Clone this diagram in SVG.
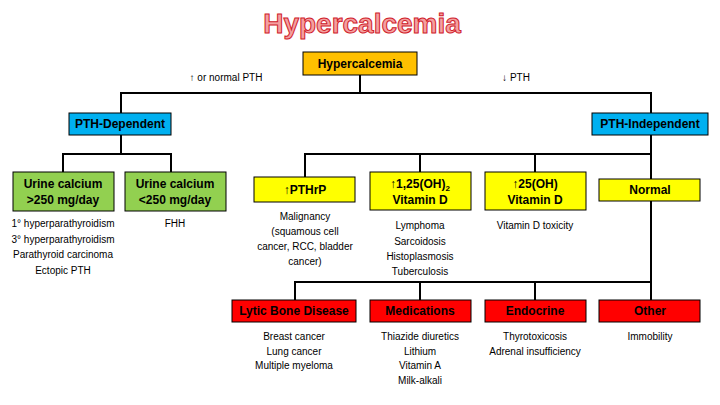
<svg xmlns="http://www.w3.org/2000/svg" width="720" height="405" viewBox="0 0 720 405">
<style>
.b{stroke:#000;stroke-width:1}
.t{font-family:"Liberation Sans",Arial,sans-serif;font-weight:bold;font-size:12px;text-anchor:middle;fill:#000}
.s{font-family:"Liberation Sans",Arial,sans-serif;font-size:10px;text-anchor:middle;fill:#000}
.c line{stroke:#000;stroke-width:2}
</style>
<rect width="720" height="405" fill="#fff"/>
<text x="362" y="33" font-family="Liberation Sans,Arial,sans-serif" font-weight="bold" font-size="28" text-anchor="middle" fill="#F4A0A0" stroke="#D0202A" stroke-width="1">Hypercalcemia</text>
<g class="c" id="connectors">
<line x1="360" y1="75" x2="360" y2="93"/>
<line x1="121" y1="93" x2="651" y2="93"/>
<line x1="121" y1="92" x2="121" y2="113"/>
<line x1="651" y1="92" x2="651" y2="113"/>
<line x1="121" y1="135" x2="121" y2="154"/>
<line x1="62" y1="154" x2="172" y2="154"/>
<line x1="63" y1="153" x2="63" y2="172"/>
<line x1="171" y1="153" x2="171" y2="172"/>
<line x1="651" y1="135" x2="651" y2="179"/>
<line x1="305" y1="154" x2="651" y2="154"/>
<line x1="305" y1="153" x2="305" y2="177"/>
<line x1="420" y1="153" x2="420" y2="172"/>
<line x1="535" y1="153" x2="535" y2="172"/>
<line x1="651" y1="201" x2="651" y2="300"/>
<line x1="295" y1="282" x2="651" y2="282"/>
<line x1="295" y1="281" x2="295" y2="300"/>
<line x1="420" y1="281" x2="420" y2="300"/>
<line x1="535" y1="281" x2="535" y2="300"/>
</g>
<text class="s" x="226" y="81">↑ or normal PTH</text>
<text class="s" x="516" y="81">↓ PTH</text>
<g id="n-hyper"><rect class="b" x="303" y="52" width="114" height="23" fill="#FFC000"/><text class="t" x="360" y="68">Hypercalcemia</text></g>
<g id="n-dep"><rect class="b" x="69" y="113" width="102" height="22" fill="#00B0F0"/><text class="t" x="120" y="128">PTH-Dependent</text></g>
<g id="n-indep"><rect class="b" x="592" y="113" width="116" height="22" fill="#00B0F0"/><text class="t" x="650" y="128">PTH-Independent</text></g>
<g id="n-u1"><rect class="b" x="13" y="172" width="101" height="39" fill="#92D050"/><text class="t" x="63" y="188">Urine calcium</text><text class="t" x="63" y="204">&gt;250 mg/day</text>
<text class="s" x="63" y="227">1° hyperparathyroidism</text><text class="s" x="63" y="243">3° hyperparathyroidism</text><text class="s" x="63" y="258">Parathyroid carcinoma</text><text class="s" x="63" y="274">Ectopic PTH</text></g>
<g id="n-u2"><rect class="b" x="125" y="172" width="101" height="39" fill="#92D050"/><text class="t" x="175" y="188">Urine calcium</text><text class="t" x="175" y="204">&lt;250 mg/day</text>
<text class="s" x="175" y="227">FHH</text></g>
<g id="n-pthrp"><rect class="b" x="254" y="177" width="101" height="25" fill="#FFFF00"/><text class="t" x="305" y="194">↑PTHrP</text>
<text class="s" x="305" y="220">Malignancy</text><text class="s" x="305" y="235">(squamous cell</text><text class="s" x="305" y="250">cancer, RCC, bladder</text><text class="s" x="305" y="265">cancer)</text></g>
<g id="n-125"><rect class="b" x="370" y="172" width="101" height="38" fill="#FFFF00"/><text class="t" x="420" y="188">↑1,25(OH)<tspan font-size="8" dy="3">2</tspan></text><text class="t" x="420" y="204">Vitamin D</text>
<text class="s" x="420" y="229">Lymphoma</text><text class="s" x="420" y="245">Sarcoidosis</text><text class="s" x="420" y="260">Histoplasmosis</text><text class="s" x="420" y="275">Tuberculosis</text></g>
<g id="n-25"><rect class="b" x="485" y="172" width="101" height="38" fill="#FFFF00"/><text class="t" x="535" y="188">↑25(OH)</text><text class="t" x="535" y="204">Vitamin D</text>
<text class="s" x="535" y="229">Vitamin D toxicity</text></g>
<g id="n-normal"><rect class="b" x="599" y="179" width="101" height="22" fill="#FFFF00"/><text class="t" x="650" y="194">Normal</text></g>
<g id="n-lytic"><rect class="b" x="232" y="300" width="124" height="22" fill="#FF0000"/><text class="t" x="294" y="315">Lytic Bone Disease</text>
<text class="s" x="294" y="340">Breast cancer</text><text class="s" x="294" y="355">Lung cancer</text><text class="s" x="294" y="369">Multiple myeloma</text></g>
<g id="n-med"><rect class="b" x="370" y="300" width="101" height="22" fill="#FF0000"/><text class="t" x="420" y="315">Medications</text>
<text class="s" x="420" y="340">Thiazide diuretics</text><text class="s" x="420" y="355">Lithium</text><text class="s" x="420" y="369">Vitamin A</text><text class="s" x="420" y="384">Milk-alkali</text></g>
<g id="n-endo"><rect class="b" x="485" y="300" width="101" height="22" fill="#FF0000"/><text class="t" x="535" y="315">Endocrine</text>
<text class="s" x="535" y="340">Thyrotoxicosis</text><text class="s" x="535" y="355">Adrenal insufficiency</text></g>
<g id="n-other"><rect class="b" x="599" y="300" width="101" height="22" fill="#FF0000"/><text class="t" x="650" y="315">Other</text>
<text class="s" x="650" y="340">Immobility</text></g>
</svg>
